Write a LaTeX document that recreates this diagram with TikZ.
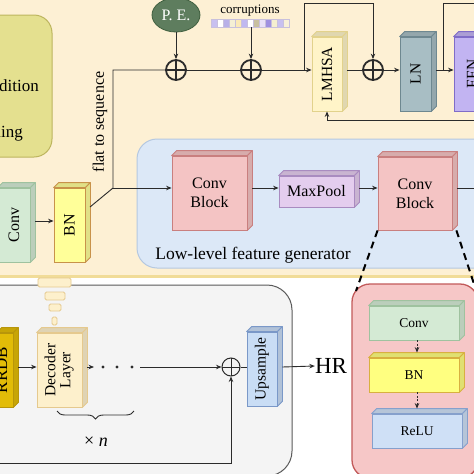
\documentclass[tikz,border=0pt]{standalone}
\usepackage{fontspec}
\setmainfont{Liberation Serif}
\usetikzlibrary{arrows.meta,calc,decorations.pathreplacing,shapes.geometric}
\definecolor{lc}{HTML}{2B2B2B}
\definecolor{beige}{HTML}{FDF0D4}
\definecolor{beigeB}{HTML}{F1DC98}
\definecolor{olv}{HTML}{E4E08F}
\definecolor{olvD}{HTML}{BDB55E}
\definecolor{peF}{HTML}{5E7D5E}
\definecolor{peD}{HTML}{3F5F3F}
\definecolor{lmF}{HTML}{FFF4C8}
\definecolor{lmD}{HTML}{E2D28C}
\definecolor{lnF}{HTML}{A8BEC4}
\definecolor{lnD}{HTML}{6E8890}
\definecolor{ffF}{HTML}{C2B4F2}
\definecolor{ffD}{HTML}{7F6CC8}
\definecolor{blF}{HTML}{DCE8F7}
\definecolor{blD}{HTML}{B5C8E0}
\definecolor{cbF}{HTML}{F4C4C4}
\definecolor{cbD}{HTML}{C97F7F}
\definecolor{mpF}{HTML}{E4CDEE}
\definecolor{mpD}{HTML}{A98BC0}
\definecolor{gC}{HTML}{D4EAD4}
\definecolor{gD}{HTML}{9FC29F}
\definecolor{yB}{HTML}{FFFF99}
\definecolor{yD}{HTML}{C8924A}
\definecolor{grF}{HTML}{F4F4F4}
\definecolor{grD}{HTML}{5A5A5A}
\definecolor{gold}{HTML}{E2BC08}
\definecolor{goldD}{HTML}{B8960A}
\definecolor{dcF}{HTML}{FDF0CC}
\definecolor{dcD}{HTML}{E5C98E}
\definecolor{upF}{HTML}{C9DDF5}
\definecolor{upD}{HTML}{7A98C8}
\definecolor{pkF}{HTML}{F6C7C7}
\definecolor{pkD}{HTML}{C25A5A}
\definecolor{ybn}{HTML}{FFFF80}
\definecolor{ybnD}{HTML}{D8B040}
\definecolor{rlF}{HTML}{CFE0F6}
\definecolor{rlD}{HTML}{86A0CC}
\definecolor{sqb}{HTML}{C8C0DC}
\newcommand\fsz[2]{\fontsize{#1}{#2}\selectfont}
\newcommand\sidefaces[3]{%
  \filldraw[fill=#2!88!black, draw=#3, line width=0.8pt, line join=round] (#1.north west) -- ++(5,-5) -- ([shift={(5,-5)}]#1.north east) -- (#1.north east) -- cycle;
  \filldraw[fill=#2!88!black, draw=#3, line width=0.8pt, line join=round] (#1.north east) -- ++(5,-5) -- ([shift={(5,-5)}]#1.south east) -- (#1.south east) -- cycle;
}
\tikzset{
  ln/.style={draw=lc, line width=0.9pt},
  arr/.style={ln, -{Stealth[length=5.5pt,width=4.5pt]}},
  boxx/.style={draw, line width=0.8pt, inner sep=0pt, align=center},
  opl/.style={circle, draw=lc, line width=#1, minimum size=20pt, inner sep=0pt,
    path picture={\draw[line width=#1,lc] (path picture bounding box.north) -- (path picture bounding box.south) (path picture bounding box.west) -- (path picture bounding box.east);}},
}
\begin{document}
\begin{tikzpicture}[x=1pt,y=-1pt]
\useasboundingbox (0,0) rectangle (474,474);
\clip (0,0) rectangle (474,474);
\fill[white] (-5,-5) rectangle (480,480);
% top beige region
\fill[beige] (-5,-5) rectangle (480,276);
\draw[beigeB, line width=3pt] (-5,276) -- (480,276);
% olive box
\draw[fill=olv, draw=olvD, line width=1pt, rounded corners=18pt] (-30,15) rectangle (52,157);
\node[anchor=east, inner sep=0pt, font=\fsz{17}{20}] (tadd) at (39,86) {ldition};
\node[anchor=east, inner sep=0pt, font=\fsz{17}{20}] (tpool) at (23,133) {ling};
% blue region
\draw[fill=blF, draw=blD, line width=1pt, rounded corners=20pt] (137,139) rectangle (520,268);
\node[font=\fsz{17.5}{20}] (tlow) at (253,255) {Low-level feature generator};
% gray region
\draw[fill=grF, draw=grD, line width=1pt, rounded corners=25pt] (-40,285) rectangle (292,476);
% pink region
\draw[fill=pkF, draw=pkD, line width=1.3pt, rounded corners=18pt] (352,284) rectangle (478,478);

% ---- encoder row ----
\node[ellipse, fill=peF, draw=peD, line width=0.8pt, minimum width=48pt, minimum height=34pt, inner sep=0pt, text=white, font=\fsz{16}{19}] (pe) at (176,15) {P. E.};
\node[opl=1.8pt] (p1) at (176,70) {};
\node[opl=1.8pt] (p2) at (251,70) {};
\node[opl=1.8pt] (p3) at (373,70) {};
\node[inner sep=0pt, font=\fsz{13}{15}] (tcor) at (250,11) {corruptions};
\foreach \c [count=\i from 0] in {C8C0F0,FFFFFF,B8B0E8,F5EFD5,FBE9B8,C0B8F0,FFFFFF,C8C0A0,E8E0F8,9F90E0,F5EFD0,C8C0F0,F8F0D8}{
  \definecolor{sq}{HTML}{\c}
  \filldraw[fill=sq, draw=sqb, line width=0.4pt] (211+\i*6,19) rectangle ++(6,8);
}
\coordinate (corr) at (251,27);

\node[boxx, fill=lmF, draw=lmD, minimum width=30pt, minimum height=74pt, font=\fsz{15.5}{18}] (lm) at (327,74) {\rotatebox{90}{LMHSA}};
\sidefaces{lm}{lmF}{lmD}
\node[boxx, fill=lnF, draw=lnD, minimum width=31pt, minimum height=74pt, font=\fsz{15.5}{18}] (lnb) at (415.5,74) {\rotatebox{90}{LN}};
\sidefaces{lnb}{lnF}{lnD}
\node[boxx, fill=ffF, draw=ffD, minimum width=36pt, minimum height=74pt, font=\fsz{15.5}{18}] (ff) at (472,74) {\rotatebox{90}{FFN}};
\sidefaces{ff}{ffF}{ffD}

% ---- left conv / BN ----
\node[boxx, fill=gC, draw=gD, minimum width=32pt, minimum height=74pt, font=\fsz{16}{19}] (lconv) at (14,225) {\rotatebox{90}{Conv}};
\sidefaces{lconv}{gC}{gD}
\node[boxx, fill=yB, draw=yD, minimum width=31pt, minimum height=74pt, font=\fsz{16}{19}] (lbn) at (69.5,225) {\rotatebox{90}{BN}};
\sidefaces{lbn}{yB}{yD}
\coordinate (cbnrow) at (0,221);
\draw[arr] ($(lconv.east |- cbnrow)+(5,0)$) -- (lbn.west |- cbnrow);

% ---- low-level feature generator ----
\node[boxx, fill=cbF, draw=cbD, minimum width=75pt, minimum height=74pt, font=\fsz{16}{19}] (cb1) at (209.5,193) {Conv\\Block};
\sidefaces{cb1}{cbF}{cbD}
\node[boxx, fill=mpF, draw=mpD, minimum width=75pt, minimum height=31pt, font=\fsz{16}{19}] (mp) at (316.5,191.5) {MaxPool};
\sidefaces{mp}{mpF}{mpD}
\node[boxx, fill=cbF, draw=cbD, minimum width=74pt, minimum height=73pt, font=\fsz{16}{19}] (cb2) at (415,193.5) {Conv\\Block};
\sidefaces{cb2}{cbF}{cbD}

\coordinate (bnout) at (90,207);
\coordinate (fl) at (113,188);
\coordinate (fltop) at (113,70);
\draw[ln] (bnout) -- (fl) -- (fltop) -- (p1.west);
\node[inner sep=0pt, font=\fsz{16}{19}, rotate=90] (tflat) at (100,122) {flat to sequence};
\draw[arr] (fl) -- (cb1.west |- fl);
\draw[arr] ($(cb1.east |- fl)+(5,0)$) -- (mp.west |- fl);
\draw[arr] ($(mp.east |- fl)+(5,0)$) -- (cb2.west |- fl);
\coordinate (cbout) at (480,188);
\draw[ln] ($(cb2.east |- fl)+(5,0)$) -- (cbout);

% top connectors
\draw[arr] (pe.south) -- (p1.north);
\draw[arr] (corr) -- (p2.north);
\draw[ln] (p1.east) -- (p2.west);
\draw[arr] (p2.east) -- (lm.west |- p2);
\coordinate (br1) at (304,70);
\coordinate (topy) at (0,3);
\draw[arr] (br1) |- (p3 |- topy) -- (p3.north);
\draw[ln] ($(lm.east |- p3)+(5,0)$) -- (p3.west);
\draw[arr] (p3.east) -- (lnb.west |- p3);
\draw[arr] ($(lnb.east |- p3)+(5,0)$) -- (ff.west |- p3);
\coordinate (br2) at (443,70);
\coordinate (topr) at (480,3);
\draw[ln] (br2) |- (topr);
\coordinate (fbr) at (480,120);
\draw[arr] (fbr) -| (lm.south);

% ---- decoder area ----
\coordinate (row) at (0,367);
\node[boxx, fill=gold, draw=goldD, minimum width=16pt, minimum height=74pt, font=\fsz{17}{19}] (rrdb) at (5,370) {\hspace*{-7pt}\rotatebox{90}{RRDB}};
\sidefaces{rrdb}{gold}{goldD}
\node[boxx, fill=dcF, draw=dcD, minimum width=45pt, minimum height=74pt, font=\fsz{15.5}{17}] (dec) at (59.5,370) {\rotatebox{90}{\begin{tabular}{@{}c@{}}Decoder\\[-2pt]Layer\end{tabular}}};
\sidefaces{dec}{dcF}{dcD}
\foreach \ya/\yb/\xa/\xb in {278/287/38/71, 292/300/45/65, 304/311/49/61, 317/325/52/57}{
  \filldraw[fill=dcF, draw=dcD, line width=0.8pt, rounded corners=1.5pt] (\xa,\ya) rectangle (\xb,\yb);
}
\node[opl=1pt, minimum size=18pt] (p4) at (231,367) {};
\node[boxx, fill=upF, draw=upD, minimum width=30pt, minimum height=74pt, font=\fsz{15.5}{18}] (up) at (262,369) {\rotatebox{90}{Upsample}};
\sidefaces{up}{upF}{upD}
\node[inner sep=0pt, font=\fsz{23}{26}] (hr) at (331,366) {HR};

\draw[arr] ($(rrdb.east |- row)+(5,0)$) -- (dec.west |- row);
\coordinate (d0) at (94,367);
\draw[arr] ($(dec.east |- row)+(5,0)$) -- (d0);
\foreach \xx in {103,117,132}{ \fill[lc] (\xx,367) circle (1.7pt); }
\coordinate (d1) at (140,367);
\draw[arr] (d1) -- (p4.west);
\draw[ln] (p4.east) -- (up.west |- p4);
\draw[arr] ($(up.east |- p4)+(5,0)$) -- (hr.west);
\coordinate (skip) at (-5,463);
\draw[arr] (skip) -| (p4.south);
\draw[ln, decorate, decoration={brace, mirror, amplitude=8pt}] (57,411) -- (134,411);
\node[inner sep=0pt, font=\fsz{18}{20}] (tn) at (96,442) {× \textit{n}};

% ---- conv block detail ----
\node[boxx, fill=gC, draw=gD, minimum width=90pt, minimum height=34pt, font=\fsz{13.5}{16}] (dconv) at (414,323) {Conv};
\sidefaces{dconv}{gC}{gD}
\node[boxx, fill=ybn, draw=ybnD, minimum width=90pt, minimum height=34pt, font=\fsz{13.5}{16}] (dbn) at (414,375) {BN};
\sidefaces{dbn}{ybn}{ybnD}
\node[boxx, fill=rlF, draw=rlD, minimum width=90pt, minimum height=34pt, font=\fsz{13.5}{16}] (drelu) at (417,431) {ReLU};
\sidefaces{drelu}{rlF}{rlD}
\draw[arr, dash pattern=on 2pt off 1.5pt] ($(dconv.south)+(3,0)$) -- ($(dbn.north)+(3,-5)$);
\draw[arr, dash pattern=on 2pt off 1.5pt] ($(dbn.south)+(3,0)$) -- ($(drelu.north)+(0,-5)$);

% zoom dashed lines
\coordinate (zl) at (356,291);
\coordinate (zr) at (475,287);
\draw[black, line width=2pt, dash pattern=on 7pt off 5pt] (cb2.south west) -- (zl);
\draw[black, line width=2pt, dash pattern=on 7pt off 5pt] ($(cb2.south east)+(4,0)$) -- (zr);
\end{tikzpicture}
\end{document}
